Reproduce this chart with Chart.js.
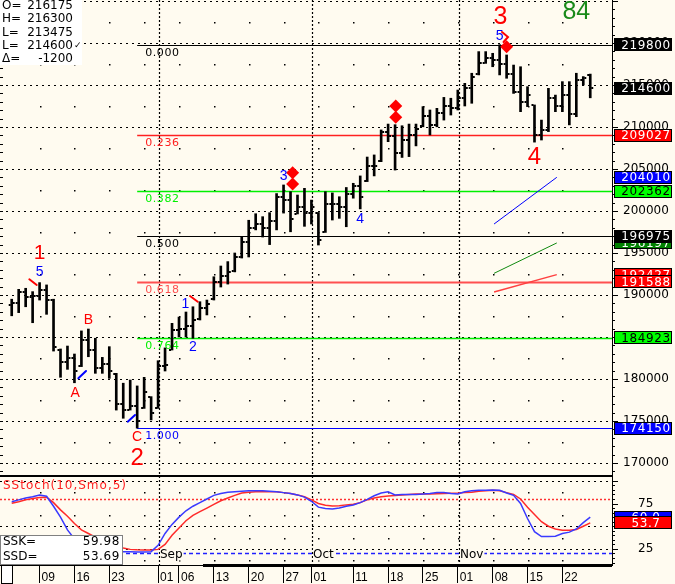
<!DOCTYPE html>
<html>
<head>
<meta charset="utf-8">
<title>Daily bars with Fibonacci levels and slow stochastic</title>
<script src="https://cdn.jsdelivr.net/npm/chart.js@4.4.1/dist/chart.umd.min.js"></script>
<style>
  html, body { margin: 0; padding: 0; background: #fffbf0; }
  #wrap { position: relative; width: 675px; height: 584px; }
</style>
</head>
<body>
<div id="wrap"><canvas id="chart"></canvas></div>
<script>
// Trading days on the chart
const dates = [
  '2010-08-03','2010-08-04','2010-08-05','2010-08-06','2010-08-09','2010-08-10','2010-08-11','2010-08-12','2010-08-13',
  '2010-08-16','2010-08-17','2010-08-18','2010-08-19','2010-08-20','2010-08-23','2010-08-24','2010-08-25','2010-08-26','2010-08-27',
  '2010-08-30','2010-08-31',
  '2010-09-01','2010-09-02','2010-09-03','2010-09-06','2010-09-07','2010-09-08','2010-09-09','2010-09-10',
  '2010-09-13','2010-09-14','2010-09-15','2010-09-16','2010-09-17','2010-09-20','2010-09-21','2010-09-22','2010-09-23','2010-09-24',
  '2010-09-27','2010-09-28','2010-09-29','2010-09-30',
  '2010-10-01','2010-10-04','2010-10-05','2010-10-06','2010-10-07','2010-10-08','2010-10-11','2010-10-12','2010-10-13','2010-10-14','2010-10-15',
  '2010-10-18','2010-10-19','2010-10-20','2010-10-21','2010-10-22','2010-10-25','2010-10-26','2010-10-27','2010-10-28','2010-10-29',
  '2010-11-01','2010-11-02','2010-11-03','2010-11-04','2010-11-05','2010-11-08','2010-11-09','2010-11-10','2010-11-11','2010-11-12',
  '2010-11-15','2010-11-16','2010-11-17','2010-11-18','2010-11-19','2010-11-22','2010-11-23','2010-11-24','2010-11-25','2010-11-26'
];

const opens = [
  188800,189000,190300,189800,189900,190600,189400,183500,182000,182500,181500,184700,183500,181300,181800,180600,177000,176300,176800,176600,
  177800,176600,181500,183500,185800,186000,186300,187100,188500,189500,191500,192300,192800,194500,196300,198000,198500,198000,198800,201700,
  201300,199700,200500,199800,199800,197500,200800,200800,200500,202000,203000,203600,205300,205900,209400,208900,206900,208500,209000,210100,
  211300,210200,211700,212500,212300,213400,214700,216300,217600,218200,218000,217500,216300,214200,213000,212600,209100,209700,213500,212500,
  213800,211500,215600,216175
];
const highs = [
  189500,190675,190800,190400,191475,191200,189500,183575,183925,182975,185725,185950,184850,182575,183850,180675,179500,179875,179175,180200,
  177900,182175,183700,186625,187375,187975,188600,189200,189400,192175,193450,193975,195000,196900,198900,199675,199325,199800,202075,203100,
  202300,201900,202700,201300,199825,202300,202150,201700,202800,203300,204175,206425,206675,209650,210350,210275,210150,210350,210350,212425,
  212025,212225,213525,213425,214400,215200,216400,218975,218975,218775,219800,218575,217375,217175,214800,212625,210825,214600,213800,215400,
  215400,216400,216000,216300
];
const lows = [
  187525,187900,188600,186700,189400,187700,183325,180200,181150,179550,181475,182650,180675,180675,180075,176300,175325,176300,174150,176500,
  175125,176500,180950,183450,185000,185000,184850,187025,187625,189400,190950,191300,192750,194400,194525,197750,196900,196000,197750,199750,
  197525,199650,198175,198450,195950,197450,198925,199125,198125,201525,200250,203500,204175,205875,208250,204875,206375,206475,207750,210025,
  209050,210025,210825,211425,212025,212500,212825,216200,217575,217175,216200,215800,214000,211825,212425,208200,208450,209450,211825,211825,
  210250,211225,215000,213475
];
const closes = [
  189000,190300,189800,189900,190600,189400,183800,182000,182500,181000,184700,183500,181300,181800,181000,177000,176300,176800,175000,178500,
  176000,181500,181700,185800,186000,186300,187000,188500,188900,191500,192300,192700,194500,196300,198000,198500,198000,198800,201700,201300,
  199000,200500,199800,200500,196600,200800,200800,200500,202000,203000,201700,205300,205300,209400,208900,206900,208500,209000,209800,211300,
  210200,211700,212500,212300,213400,214700,215900,217600,218200,218000,217500,216300,214200,213000,213800,209100,209700,213500,212500,213800,
  211500,215600,215800,214600
];

// Slow stochastic (10, smoothing 5): SSK and SSD
const stochK = [
  77,79,81,82.5,84.4,83,72,60,46,36,33,31,29,27,25,23,22,22,21.5,21.5,
  22,29,42,52,60,67,72,76,80,84,86,87.5,88,88.5,89,89,89,88.5,88,87,
  86,84.5,82,77.5,71,69.5,69,70,72,73.4,76,79.5,83.5,86.5,88,84.5,85,85,85,85.5,
  86,87,87,86,85.5,88,89,89.5,89.5,90,89.5,86.5,84,75,58.5,44,38.6,38.8,39,42,
  43.5,47,54,59.98
];
const stochD = [
  75.3,77,79,80.5,81.5,82,76,68,61,53,46,42,38,35,32,29,26,24.5,24,23.8,
  23.8,24.5,30,40,48,56,62,66,70,74,78,81,84,86.5,87.5,88,88,88,88,87,
  86,84.5,82.5,79,75,73,72.3,72.5,73.5,74.2,76,79,81,82.5,83.3,83.8,84.5,85,85.5,85.5,
  85.5,85.8,86,86.2,86.5,87,87.5,88.5,89,89.5,89,87,85,80,71,63,55,50,47,45.5,
  45.5,46.5,50,53.69
];

// Axis labels
const priceTicks = [170000, 175000, 180000, 185000, 190000, 195000, 200000, 205000, 210000, 215000, 220000];
const gridLevels = [170000, 175000, 180000, 185000, 190000, 195000, 200000, 205000, 210000, 215000, 220000, 225000];
const halfLevels = [172500, 177500, 182500, 187500, 192500, 197500, 202500, 207500, 212500, 217500, 222500];
const stochTicks = [25, 75];
const stochGrid = [25, 50, 100];
const stochHalf = [12.5, 37.5, 62.5, 87.5];
const tickDates = ['2010-08-09','2010-08-16','2010-08-23','2010-09-01','2010-09-06','2010-09-13','2010-09-20','2010-09-27',
  '2010-10-01','2010-10-11','2010-10-18','2010-10-25','2010-11-01','2010-11-08','2010-11-15','2010-11-22'];
const tickText = tickDates.map(d => d.slice(8));
const monthStarts = ['2010-09-01', '2010-10-01', '2010-11-01'];
const monthNames = ['Sep', 'Oct', 'Nov'];

// Fibonacci retracement from the C low (bar index 18)
const fibStart = 18;
const fibRatios = ['0.000', '0.236', '0.382', '0.500', '0.618', '0.764', '1.000'];
const fibValues = [219800, 209027, 202362, 196975, 191588, 184923, 174150];
const fibColors = ['#000000', '#ff2020', '#00f000', '#000000', '#ff5050', '#00f000', '#0000ff'];
const fibWidths = [1, 1.5, 1.5, 1, 2, 1.5, 1];

// Short trend lines: [start index, start value, end index, end value]
const trendLines = [
  [69.2, 198450, 78.2, 204010],
  [69.2, 192580, 78.2, 196197],
  [69.2, 190360, 78.2, 192427]
];
const trendColors = ['#0000ff', '#108a10', '#ff4040'];

// Signal diamonds [index, value]
const diamonds = [[40.3, 204560], [40.3, 203214], [55.1, 212500], [55.1, 211155], [71.0, 219560]];

// Wave counts [index, value, text, colour, size]
const waveLabels = [
  [4, 195000, '1', '#ff0000', 21],
  [4, 192740, '5', '#0000ff', 14],
  [11, 187020, 'B', '#ff0000', 14],
  [9.1, 178330, 'A', '#ff0000', 14],
  [18, 173100, 'C', '#ff0000', 14],
  [18, 170600, '2', '#ff0000', 24],
  [24.9, 188930, '1', '#0000ff', 14],
  [26, 183810, '2', '#0000ff', 14],
  [39, 204170, '3', '#0000ff', 14],
  [50, 199000, '4', '#0000ff', 14],
  [70.1, 223100, '3', '#ff0000', 25],
  [70, 220830, '5', '#0000ff', 14],
  [75, 206430, '4', '#ff0000', 24],
  [81, 223700, '84', '#1a8a1a', 25]
];
// Small pointer strokes [[index, value], ...], colour
const arrowMarks = [
  [[[2.53, 191870], [3.59, 191190]], '#ff0000'],
  [[[9.56, 180080], [10.66, 180950]], '#0000ff'],
  [[[16.64, 174920], [17.69, 175710]], '#0000ff'],
  [[[25.58, 189880], [26.69, 189200]], '#ff0000'],
  [[[70.34, 221310], [71.2, 220714], [70.56, 220119]], '#ff0000']
];

// Value tags on the right axis
const tagValues = [196197, 192427, 204010, 219800, 214600, 209027, 202362, 196975, 191588, 184923, 174150];
const tagColors = ['#008000', '#ff0000', '#0000ff', '#000000', '#000000', '#ff0000', '#00ff00', '#000000', '#ff0000', '#00ff00', '#0000ff'];

const last = dates.length - 1;
const mondays = dates.map((d, i) => (new Date(d).getUTCDay() === 1 ? i : -1)).filter(i => i >= 0);

function label(ctx, str, x, y, font, color, align, spacing) {
  ctx.font = font;
  ctx.fillStyle = color;
  ctx.textAlign = align || 'center';
  ctx.textBaseline = 'middle';
  ctx.letterSpacing = spacing || '0px';
  ctx.fillText(str, x, y);
  ctx.letterSpacing = '0px';
}

// keep axes from reserving extra room for their labels
function noPadding(s) {
  s.paddingTop = 0;
  s.paddingBottom = 0;
  s.paddingLeft = 0;
  s.paddingRight = 0;
}

const overlay = {
  id: 'overlay',
  beforeDraw(chart) {
    const { ctx, width, height } = chart;
    ctx.save();
    ctx.fillStyle = '#fffbf0';
    ctx.fillRect(0, 0, width, height);
    ctx.restore();
  },
  beforeDatasetsDraw(chart) {
    const { ctx, chartArea: a, scales: { x, y, y2 } } = chart;
    const hline = (py, x0, x1) => { ctx.beginPath(); ctx.moveTo(x0, py); ctx.lineTo(x1, py); ctx.stroke(); };
    ctx.save();

    // dotted grid
    ctx.strokeStyle = '#000';
    ctx.lineWidth = 1;
    ctx.setLineDash([2, 4]);
    gridLevels.forEach(v => hline(Math.round(y.getPixelForValue(v)) + 0.5, a.left, a.right));
    stochGrid.forEach(v => hline(Math.round(y2.getPixelForValue(v)) + 0.5, a.left, a.right));

    ctx.fillStyle = '#000';
    mondays.forEach(i => {
      const px = Math.round(x.getPixelForValue(i));
      halfLevels.forEach(v => ctx.fillRect(px, Math.round(y.getPixelForValue(v)), 1.5, 1.5));
      stochHalf.forEach(v => ctx.fillRect(px, Math.round(y2.getPixelForValue(v)), 1.5, 1.5));
    });

    // minor ticks along the left edge
    for (let v = 169000; v <= 225000; v += 1000) {
      const py = Math.round(y.getPixelForValue(v));
      if (py > a.top && py < y.bottom - 2) ctx.fillRect(0, py, 3, 1);
    }

    // month separators
    ctx.setLineDash([2, 2]);
    ctx.lineWidth = 1.2;
    monthStarts.forEach(d => {
      const px = Math.round(x.getPixelForValue(dates.indexOf(d))) + 1.5;
      ctx.beginPath(); ctx.moveTo(px, a.top); ctx.lineTo(px, a.bottom); ctx.stroke();
    });

    // stochastic bands
    ctx.lineWidth = 1.5;
    ctx.strokeStyle = '#ff3030';
    ctx.setLineDash([2, 2]);
    hline(Math.round(y2.getPixelForValue(80)) + 0.5, a.left, a.right);
    ctx.strokeStyle = '#2020ff';
    ctx.setLineDash([4, 3]);
    hline(Math.round(y2.getPixelForValue(20)) + 0.5, a.left, a.right);
    ctx.setLineDash([]);

    // month names sit on the lower band
    monthStarts.forEach((d, k) => {
      const px = Math.round(x.getPixelForValue(dates.indexOf(d))) + 2;
      const py = y2.getPixelForValue(20) + 1;
      ctx.font = '12px "DejaVu Sans"';
      const w = ctx.measureText(monthNames[k]).width;
      ctx.fillStyle = '#fffbf0';
      ctx.fillRect(px, py - 6, w + 1, 12);
      label(ctx, monthNames[k], px, py, '12px "DejaVu Sans"', '#000', 'left');
    });

    // Fibonacci levels
    const fx = x.getPixelForValue(fibStart);
    fibValues.forEach((v, k) => {
      const py = Math.round(y.getPixelForValue(v)) + 0.5;
      ctx.strokeStyle = fibColors[k];
      ctx.lineWidth = fibWidths[k];
      hline(py, fx, a.right);
      ctx.font = '11px "DejaVu Sans"';
      ctx.letterSpacing = '0.6px';
      ctx.fillStyle = fibColors[k];
      ctx.textAlign = 'left';
      ctx.textBaseline = 'top';
      ctx.fillText(fibRatios[k], fx + 8, py + 2);
      ctx.letterSpacing = '0px';
    });
    ctx.restore();
  },
  afterDatasetsDraw(chart) {
    const { ctx, chartArea: a, scales: { x, y, y2 } } = chart;
    ctx.save();

    // open / close ticks
    ctx.fillStyle = '#000';
    dates.forEach((d, i) => {
      const cx = x.getPixelForValue(i);
      ctx.fillRect(cx - 3, Math.round(y.getPixelForValue(opens[i])) - 1, 2, 2);
      ctx.fillRect(cx + 1, Math.round(y.getPixelForValue(closes[i])) - 1, 2, 2);
    });

    // wave labels and pointers
    waveLabels.forEach(([i, v, t, c, s]) => {
      label(ctx, t, x.getPixelForValue(i), y.getPixelForValue(v), s + 'px "Liberation Sans"', c);
    });
    ctx.lineWidth = 2;
    ctx.lineCap = 'round';
    arrowMarks.forEach(([pts, c]) => {
      ctx.strokeStyle = c;
      ctx.beginPath();
      pts.forEach(([i, v], k) => {
        const px = x.getPixelForValue(i), py = y.getPixelForValue(v);
        if (k) ctx.lineTo(px, py); else ctx.moveTo(px, py);
      });
      ctx.stroke();
    });

    // pane separator
    ctx.fillStyle = '#000';
    ctx.fillRect(a.left, Math.round(y.bottom) - 1, a.right - a.left, 2);

    // quote box
    const lines = [
      ['O=', String(opens[last])],
      ['H=', String(highs[last])],
      ['L=', String(lows[last])],
      ['L=', String(closes[last])],
      ['\u0394=', String(closes[last] - closes[last - 1])]
    ];
    ctx.fillStyle = '#ffffff';
    ctx.fillRect(0, 0, 82, 65);
    lines.forEach(([k, v], n) => {
      const py = 6 + n * 13.3;
      label(ctx, k, 2, py, '12px "DejaVu Sans"', '#000', 'left');
      label(ctx, v, 73, py, '12px "DejaVu Sans"', '#000', 'right');
    });
    label(ctx, '\u2713', 74, 6 + 3 * 13.3, '9px "DejaVu Sans"', '#000', 'left');

    // stochastic title and readout
    label(ctx, 'SStoch(10,Smo,5)', 3, 486, '12px "DejaVu Sans"', '#ff2020', 'left', '1px');
    ctx.fillStyle = '#ffffff';
    ctx.fillRect(0, 535, 123, 30);
    ctx.strokeStyle = '#808080';
    ctx.lineWidth = 1;
    ctx.strokeRect(0.5, 535.5, 122, 29);
    label(ctx, 'SSK=', 3, 542, '12px "DejaVu Sans"', '#000', 'left');
    label(ctx, stochK[last].toFixed(2), 120, 542, '12px "DejaVu Sans"', '#000', 'right', '0.6px');
    label(ctx, 'SSD=', 3, 557, '12px "DejaVu Sans"', '#000', 'left');
    label(ctx, stochD[last].toFixed(2), 120, 557, '12px "DejaVu Sans"', '#000', 'right', '0.6px');
    ctx.restore();
  },
  afterDraw(chart) {
    const { ctx, chartArea: a, scales: { x, y, y2 } } = chart;
    ctx.save();

    // minor ticks on the right axis
    ctx.fillStyle = '#000';
    for (let v = 169000; v <= 225000; v += 1000) {
      const py = Math.round(y.getPixelForValue(v));
      if (py < a.top || py > y.bottom - 2) continue;
      ctx.fillRect(a.right, py, v % 5000 === 0 ? 6 : 3, 1);
    }
    for (let v = 10; v <= 105; v += 5) {
      const py = Math.round(y2.getPixelForValue(v));
      if (py < y2.top + 2 || py > a.bottom) continue;
      ctx.fillRect(a.right, py, v % 25 === 0 ? 6 : 3, 1);
    }

    // value tags
    const tag = (py, bg, txt) => {
      ctx.fillStyle = bg;
      ctx.fillRect(614, Math.round(py - 6.5), 58, 13);
      ctx.strokeStyle = '#000';
      ctx.lineWidth = 1;
      ctx.strokeRect(614.5, Math.round(py - 6.5) + 0.5, 57, 12);
      label(ctx, txt, 646, Math.round(py) + 0.5, '12px "DejaVu Sans"', bg === '#00ff00' ? '#000' : '#fff', 'center', '0.6px');
    };
    tagValues.forEach((v, k) => tag(y.getPixelForValue(v), tagColors[k], String(v)));
    tag(y2.getPixelForValue(stochK[last]), '#0000ff', stochK[last].toFixed(1));
    tag(y2.getPixelForValue(stochD[last]), '#ff0000', stochD[last].toFixed(1));

    // date strip: scroller
    ctx.fillStyle = '#000';
    ctx.fillRect(203, a.bottom - 1, a.right - 203, 3);
    ctx.fillStyle = '#ffffff';
    ctx.fillRect(1, a.bottom, 12, 19);
    ctx.strokeStyle = '#000';
    ctx.strokeRect(1.5, a.bottom + 0.5, 11, 18);
    ctx.restore();
  }
};

const barData = dates.map((d, i) => ({ x: i, y: [lows[i], highs[i]] }));

new Chart(document.getElementById('chart'), {
  type: 'bar',
  data: {
    datasets: [
      {
        type: 'line', label: 'Signals', yAxisID: 'y', order: 0,
        data: diamonds.map(([i, v]) => ({ x: i, y: v })),
        showLine: false, pointStyle: 'rectRot', pointRadius: 6.5,
        pointBackgroundColor: '#ff0000', pointBorderWidth: 0, borderWidth: 0
      },
      {
        type: 'line', label: 'SSK', yAxisID: 'y2', order: 1,
        data: stochK.map((v, i) => ({ x: i, y: v })),
        borderColor: '#3a3aff', borderWidth: 1.5, pointRadius: 0
      },
      {
        type: 'line', label: 'SSD', yAxisID: 'y2', order: 2,
        data: stochD.map((v, i) => ({ x: i, y: v })),
        borderColor: '#ff2a2a', borderWidth: 1.5, pointRadius: 0
      },
      ...trendLines.map((t, k) => ({
        type: 'line', label: 'Trend ' + k, yAxisID: 'y', order: 3,
        data: [{ x: t[0], y: t[1] }, { x: t[2], y: t[3] }],
        borderColor: trendColors[k], borderWidth: k === 2 ? 1.5 : 1, pointRadius: 0
      })),
      {
        type: 'bar', label: 'Price', yAxisID: 'y', order: 9,
        data: barData, backgroundColor: '#000000', borderWidth: 0, barThickness: 2
      }
    ]
  },
  options: {
    responsive: true,
    maintainAspectRatio: false,
    animation: false,
    devicePixelRatio: 1,
    layout: { padding: 0, autoPadding: false },
    plugins: { legend: { display: false }, tooltip: { enabled: false } },
    scales: {
      x: {
        type: 'linear', min: -1.68, max: 86.12, offset: false,
        afterBuildTicks: s => { s.ticks = tickDates.map(d => ({ value: dates.indexOf(d) })); },
        afterFit: s => { s.height = 19; noPadding(s); },
        grid: { drawOnChartArea: false, drawTicks: true, tickLength: 18, color: '#000', offset: false },
        border: { display: true, color: '#000', width: 1 },
        ticks: {
          autoSkip: false, maxRotation: 0, align: 'start', padding: -13, labelOffset: 2,
          color: '#000', font: { family: 'Liberation Sans', size: 12 },
          callback: (v, i) => tickText[i]
        }
      },
      y: {
        type: 'linear', position: 'right', stack: 'panes', stackWeight: 476,
        min: 168452, max: 225119,
        afterBuildTicks: s => { s.ticks = priceTicks.map(v => ({ value: v })); },
        afterFit: s => { s.width = 63; noPadding(s); },
        grid: { drawOnChartArea: false, drawTicks: false },
        border: { display: true, color: '#000', width: 1 },
        ticks: { crossAlign: 'center', padding: 11, color: '#000', font: { family: 'DejaVu Sans', size: 12 }, callback: v => String(v) }
      },
      y2: {
        type: 'linear', position: 'right', stack: 'panes', stackWeight: 89,
        min: 7.3, max: 105.3,
        afterBuildTicks: s => { s.ticks = stochTicks.map(v => ({ value: v })); },
        afterFit: s => { s.width = 63; noPadding(s); },
        grid: { drawOnChartArea: false, drawTicks: false },
        border: { display: true, color: '#000', width: 1 },
        ticks: { crossAlign: 'center', padding: 26, color: '#000', font: { family: 'DejaVu Sans', size: 12 }, callback: v => String(v) }
      }
    }
  },
  plugins: [overlay]
});
</script>
</body>
</html>
